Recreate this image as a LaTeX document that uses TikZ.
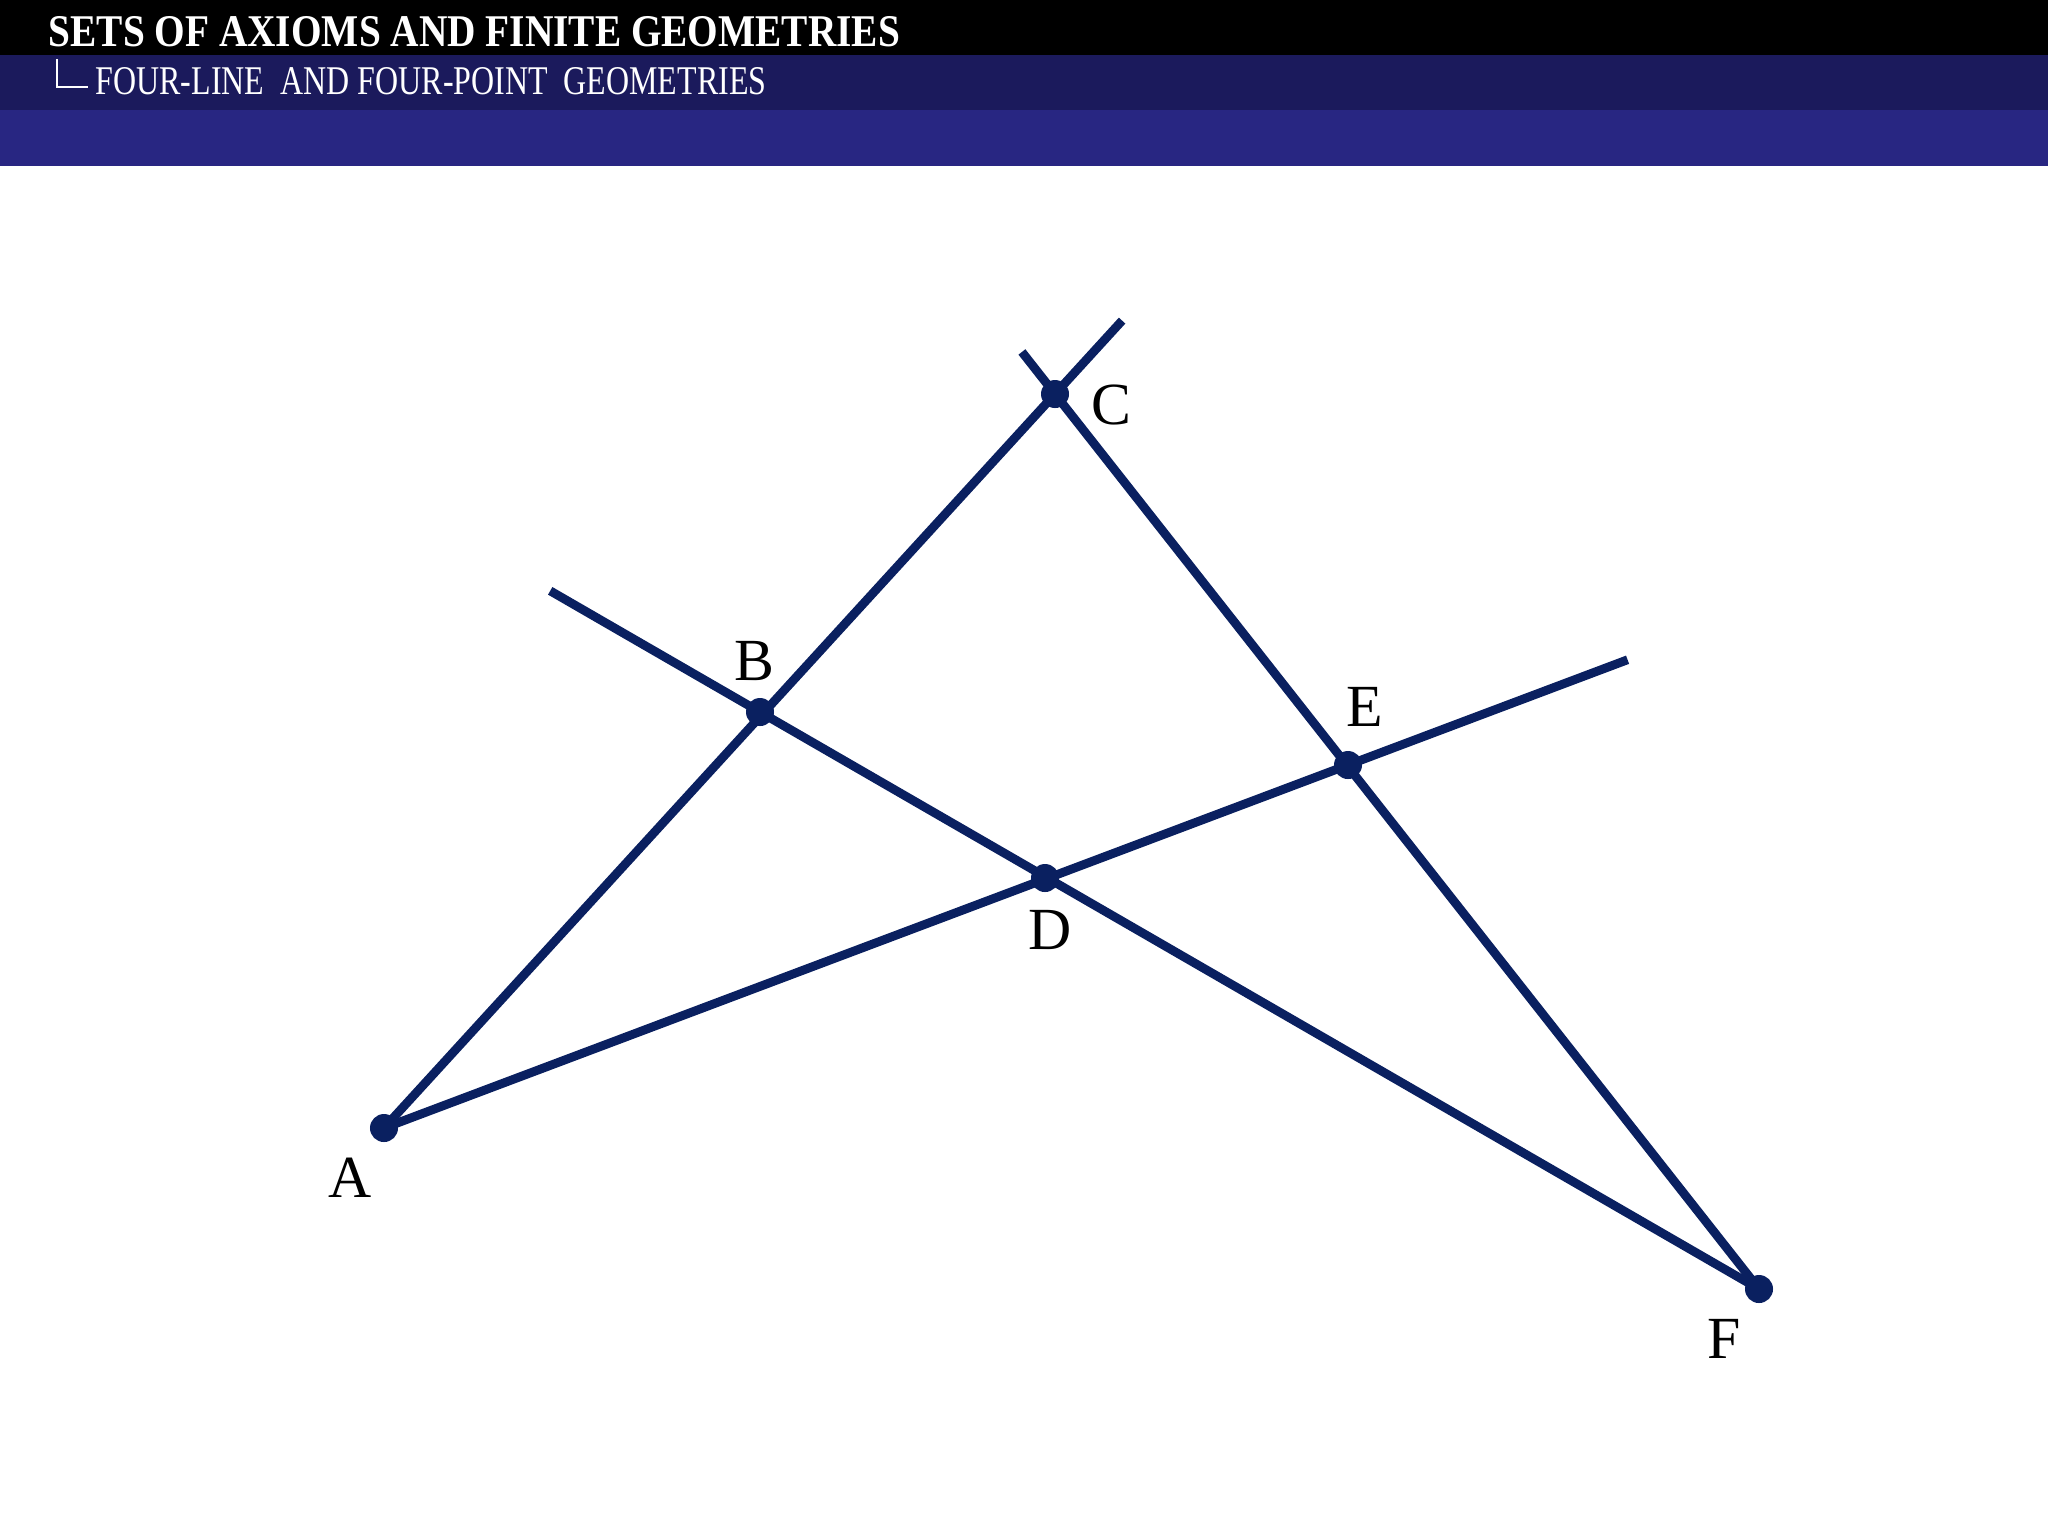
\documentclass[tikz,border=0pt]{standalone}
\usepackage{graphicx}
\usepackage{fontspec}
\setmainfont{Liberation Serif}
\usetikzlibrary{calc}

\definecolor{lineblue}{RGB}{10,32,96}
\definecolor{barnavy}{RGB}{27,26,92}
\definecolor{barblue}{RGB}{40,38,130}

\tikzset{
  geoline/.style={draw=lineblue, line width=2.5pt},
  geopt/.style={circle, fill=lineblue, inner sep=0pt, minimum size=0.28cm},
  geolabel/.style={font=\fontsize{17}{20}\selectfont, text=black, inner sep=0pt},
  headtext/.style={anchor=base west, text=white, inner sep=0pt},
}

\begin{document}
\begin{tikzpicture}[x=0.01cm, y=-0.01cm]
    \useasboundingbox (0,0) rectangle (2048,1538);
    % header bars
    \fill[black] (0,0) rectangle (2048,55);
    \fill[barnavy] (0,55) rectangle (2048,110);
    \fill[barblue] (0,110) rectangle (2048,166);
    \node[headtext, font=\bfseries\fontsize{12.9}{15}\selectfont] (title) at (48,46)
        {\scalebox{0.867}[1]{SETS OF AXIOMS AND FINITE GEOMETRIES}};
    \draw[white, line width=0.8pt] (57,59) -- (57,87) -- (88,87);
    \node[headtext, font=\fontsize{11.6}{14}\selectfont] (subtitle) at (95,94)
        {\scalebox{0.784}[1]{FOUR-LINE~ AND FOUR-POINT~ GEOMETRIES}};

    % the six points
    \coordinate (A) at (384,1128);
    \coordinate (B) at (760,712);
    \coordinate (C) at (1055,394);
    \coordinate (D) at (1045,878);
    \coordinate (E) at (1348,765);
    \coordinate (F) at (1759,1289);

    % the four lines
    \draw[geoline] (A) -- ($(A)!1.1!(C)$);
    \draw[geoline] (F) -- ($(F)!1.047!(C)$);
    \draw[geoline] (F) -- ($(F)!1.21!(B)$);
    \draw[geoline] (A) -- ($(A)!1.29!(E)$);

    \foreach \p in {A,B,C,D,E,F}
        \node[geopt] (pt\p) at (\p) {};

    % labels
    \node[geolabel] (labA) at ($(A)+(-34,50)$) {A};
    \node[geolabel] (labB) at ($(B)+(-6,-51)$) {B};
    \node[geolabel] (labC) at ($(C)+(56,11)$) {C};
    \node[geolabel] (labD) at ($(D)+(5,52)$) {D};
    \node[geolabel] (labE) at ($(E)+(17,-58)$) {E};
    \node[geolabel] (labF) at ($(F)+(-35,50)$) {F};
\end{tikzpicture}
\end{document}
